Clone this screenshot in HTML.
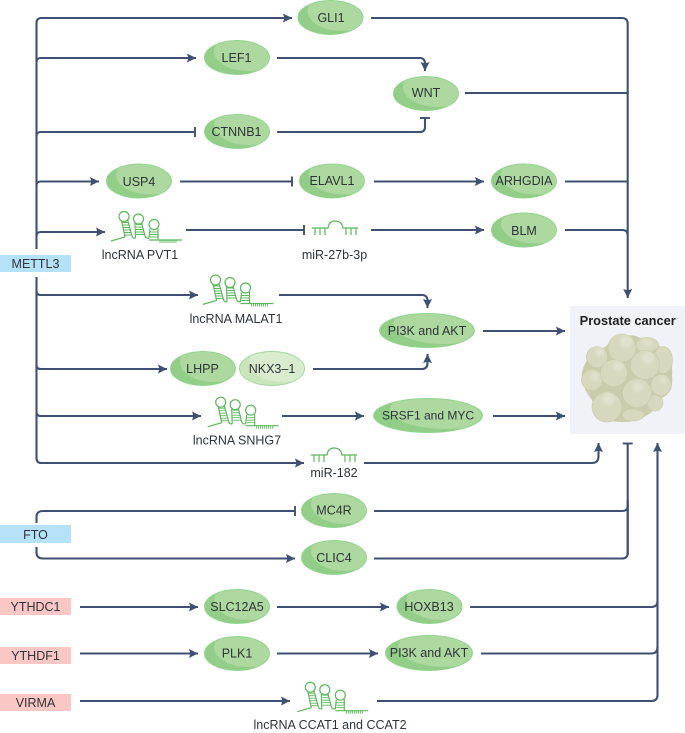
<!DOCTYPE html>
<html>
<head>
<meta charset="utf-8">
<style>
html,body{margin:0;padding:0;background:#fff;width:685px;height:733px;overflow:hidden}
svg{display:block}
text{font-family:"Liberation Sans",sans-serif;font-size:12.5px;fill:#2f3438;text-anchor:middle}
.l{fill:none;stroke:#3f5072;stroke-width:2.1}
.a{marker-end:url(#arr)}
.b{marker-end:url(#bar)}
.r{fill:none;stroke:#5cb85c;stroke-width:1.2}
.c{fill:none;stroke:#5cb85c;stroke-width:.9}
</style>
</head>
<body>
<svg width="685" height="733" viewBox="0 0 685 733" xmlns="http://www.w3.org/2000/svg">
<defs>
<marker id="arr" markerUnits="userSpaceOnUse" markerWidth="11" markerHeight="10" refX="9" refY="4.500" orient="auto"><path d="M0 0L9 4.500L0 9L1.400 4.500Z" fill="#3f5072"/></marker>
<marker id="bar" markerUnits="userSpaceOnUse" markerWidth="4" markerHeight="12" refX="1" refY="6" orient="auto"><path d="M1 1V11" stroke="#3f5072" stroke-width="1.9" fill="none"/></marker>
<clipPath id="ec"><ellipse cx="33" cy="17.5" rx="32.5" ry="17"/></clipPath>
<symbol id="n" viewBox="0 0 66 35" preserveAspectRatio="none">
<ellipse cx="33" cy="17.5" rx="32.5" ry="17" fill="#92ce88"/>
<ellipse cx="44" cy="11" rx="34" ry="20" fill="#add89f" clip-path="url(#ec)"/>
<ellipse cx="33" cy="17.5" rx="32.5" ry="17" fill="none" stroke="#8fd58c" stroke-width=".9"/>
</symbol>
<symbol id="p" viewBox="0 0 66 35" preserveAspectRatio="none">
<ellipse cx="33" cy="17.5" rx="32.5" ry="17" fill="#c9e5bc"/>
<ellipse cx="44" cy="11" rx="34" ry="20" fill="#d9ecce" clip-path="url(#ec)"/>
<ellipse cx="33" cy="17.5" rx="32.5" ry="17" fill="none" stroke="#9ad896" stroke-width=".9"/>
</symbol>
<g id="rna">
<path class="r" d="M0 0L14 -4L10.500 -20.500M16.500 -21.500L21 -5Q22 -2 24.500 -3L24 -18M30.500 -18.500L34 -5Q35 -2 38 -3L39 -12M47 -12.500V-1H71M38 -1H47"/>
<circle class="r" cx="13" cy="-24.500" r="5"/><circle class="r" cx="27.500" cy="-22" r="5"/><circle class="r" cx="43" cy="-16.500" r="5"/>
<path class="c" d="M11 -18.500h6M11.500 -16h6M12 -13.500h6.500M12.500 -11h6.500M13 -8.500h6.500M13.500 -6h7M25 -16.500h6M25 -14h6.500M25 -11.500h7M25 -9h7.500M25 -6.500h8.500M39 -9h8M39 -6.500h8M39 -4h8M49 -1v3M51 -1v3M53 -1v3M55 -1v3M57 -1v3M59 -1v3M61 -1v3M63 -1v3M65 -1v3"/>
</g>
<g id="mir">
<path class="r" d="M0 0H16Q17 -7 23 -7Q30 -7 31 0H46M3 0V7M8 0V7M13 0V7M34 0V7M39 0V7M44 0V7"/>
</g>
<filter id="soft" x="-20%" y="-20%" width="140%" height="140%"><feGaussianBlur stdDeviation="1.500"/></filter>
</defs>

<rect x="570" y="306" width="115" height="128" fill="#f0f2f7"/>

<!-- METTL3 trunk -->
<path class="l a" d="M36.500 249V23Q36.500 18 41.500 18H292"/>
<path class="l" d="M36.500 277V458Q36.500 463 41.500 463H100"/>
<path class="l a" d="M36.500 62Q36.500 58 41 58H196"/>
<path class="l b" d="M36.500 136Q36.500 132 41 132H195"/>
<path class="l a" d="M36.500 185Q36.500 181.500 41 181.500H99"/>
<path class="l a" d="M36.500 236Q36.500 232 41 232H105"/>
<path class="l a" d="M36.500 291Q36.500 295 41 295H198"/>
<path class="l a" d="M36.500 365Q36.500 369 41 369H167"/>
<path class="l a" d="M36.500 412Q36.500 416 41 416H201"/>
<path class="l a" d="M100 463H304"/>

<!-- Upper pathway -->
<path class="l a" d="M277 58H420Q425 58 425 64V71"/>
<path class="l b" d="M277 132H420Q425 132 425 127V118"/>
<path class="l b" d="M180 181.500H292"/>
<path class="l a" d="M374 181.500H484"/>
<path class="l b" d="M186 230H304"/>
<path class="l a" d="M371 230H484"/>

<!-- Right trunk -->
<path class="l a" d="M371 18H622Q627.700 18 627.700 24V298"/>
<path class="l" d="M465 93H627.700"/>
<path class="l" d="M565 181.500H627.700"/>
<path class="l" d="M565 230H622Q627.700 230 627.700 235"/>

<!-- Middle -->
<path class="l a" d="M279 295H422Q427.500 295 427.500 301V308"/>
<path class="l a" d="M313 369H422Q427.500 369 427.500 363V354"/>
<path class="l a" d="M483 331H565"/>
<path class="l a" d="M282 416H364"/>
<path class="l a" d="M493 416H565"/>
<path class="l a" d="M364 463H592Q598.500 463 598.500 456V443"/>

<!-- Lower -->
<path class="l b" d="M627.700 555V443.500"/>
<path class="l" d="M374 511H622Q627.700 511 627.700 506"/>
<path class="l" d="M374 558.500H622Q627.700 558.500 627.700 553V500"/>
<path class="l a" d="M657.500 695V443"/>
<path class="l" d="M470 607H651Q657.500 607 657.500 601"/>
<path class="l" d="M481 653.500H651Q657.500 653.500 657.500 647"/>
<path class="l" d="M377 701H651Q657.500 701 657.500 695"/>

<!-- FTO -->
<path class="l b" d="M36.500 523V517Q36.500 511 43 511H295"/>
<path class="l a" d="M36.500 547V552Q36.500 558.500 43 558.500H295"/>

<path class="l a" d="M80 607H198"/>
<path class="l a" d="M80 653.500H198"/>
<path class="l a" d="M80 701H290"/>
<path class="l a" d="M277 607H389"/>
<path class="l a" d="M277 653.500H378"/>

<!-- Left labels -->
<rect x="0" y="255" width="71" height="17" fill="#b5e2f8"/>
<rect x="0" y="525" width="71" height="18" fill="#b5e2f8"/>
<rect x="0" y="598" width="71" height="17" fill="#fbc7c4"/>
<rect x="0" y="647" width="71" height="17" fill="#fbc7c4"/>
<rect x="0" y="694" width="71" height="17" fill="#fbc7c4"/>
<text x="35.500" y="268">METTL3</text>
<text x="35.500" y="539">FTO</text>
<text x="35.500" y="611">YTHDC1</text>
<text x="35.500" y="660">YTHDF1</text>
<text x="35.500" y="707">VIRMA</text>

<!-- Nodes -->
<use href="#n" x="297.500" y="0" width="66" height="35"/>
<use href="#n" x="204" y="40" width="66" height="35"/>
<use href="#n" x="204" y="114" width="66" height="35"/>
<use href="#n" x="106" y="163.500" width="66" height="35"/>
<use href="#n" x="299" y="163.500" width="66" height="35"/>
<use href="#n" x="393" y="76" width="66" height="35"/>
<use href="#n" x="491" y="163.500" width="66" height="35"/>
<use href="#n" x="491" y="212.500" width="66" height="35"/>
<use href="#n" x="379" y="313" width="96" height="35"/>
<use href="#n" x="170" y="351" width="66" height="35"/>
<use href="#p" x="239" y="351" width="66" height="35"/>
<use href="#n" x="373" y="398" width="110" height="35"/>
<use href="#n" x="301" y="493" width="66" height="35"/>
<use href="#n" x="301" y="540" width="66" height="35"/>
<use href="#n" x="204" y="589" width="66" height="35"/>
<use href="#n" x="396.500" y="589" width="66" height="35"/>
<use href="#n" x="204" y="636" width="66" height="35"/>
<use href="#n" x="385" y="635" width="88" height="36"/>

<text x="331" y="22">GLI1</text>
<text x="236.500" y="62">LEF1</text>
<text x="236.500" y="136">CTNNB1</text>
<text x="139" y="186">USP4</text>
<text x="332" y="185">ELAVL1</text>
<text x="426" y="97">WNT</text>
<text x="524" y="185">ARHGDIA</text>
<text x="524" y="235">BLM</text>
<text x="427" y="335">PI3K and AKT</text>
<text x="202.500" y="373">LHPP</text>
<text x="272" y="373">NKX3–1</text>
<text x="428" y="419.500" style="font-size:12px">SRSF1 and MYC</text>
<text x="334" y="514.500">MC4R</text>
<text x="334" y="562">CLIC4</text>
<text x="237" y="611">SLC12A5</text>
<text x="429" y="611">HOXB13</text>
<text x="237" y="657.500">PLK1</text>
<text x="429" y="657">PI3K and AKT</text>

<!-- RNA -->
<use href="#rna" x="111" y="241"/>
<use href="#rna" x="202.500" y="304.500"/>
<use href="#rna" x="207.700" y="426.700"/>
<use href="#rna" x="297.300" y="711.700"/>
<use href="#mir" x="312" y="228"/>
<use href="#mir" x="311" y="455"/>
<text x="140" y="259">lncRNA PVT1</text>
<text x="334.500" y="259">miR-27b-3p</text>
<text x="236" y="323">lncRNA MALAT1</text>
<text x="237" y="444.500">lncRNA SNHG7</text>
<text x="334" y="477">miR-182</text>
<text x="330" y="729">lncRNA CCAT1 and CCAT2</text>

<!-- Tumour -->
<text x="627.700" y="325" style="font-weight:bold;font-size:12.800px;fill:#222">Prostate cancer</text>
<path d="M605 347Q620 332 636 336L660 346Q674 360 672 375Q674 392 662 398Q656 412 640 419Q625 424 612 421Q596 420 592 400Q580 385 582 372Q586 355 605 347Z" fill="#cbccae"/>
<g stroke="#c8c9aa" stroke-width=".6" fill="#d7d8bd">
<ellipse cx="647" cy="345" rx="11.500" ry="7.500"/>
<ellipse cx="663" cy="360" rx="9.500" ry="13.500"/>
<circle cx="622" cy="348" r="14"/>
<circle cx="597" cy="357" r="10.500"/>
<circle cx="592" cy="380" r="10.500"/>
<circle cx="661" cy="385" r="10.500"/>
<circle cx="614" cy="373" r="13.500"/>
<circle cx="645" cy="365" r="14.500"/>
<circle cx="655" cy="403" r="8"/>
<circle cx="637" cy="393" r="14.500"/>
<circle cx="607" cy="407" r="15"/>
<ellipse cx="633" cy="415" rx="11" ry="6"/>
</g>
<g fill="#e6e7d6" opacity=".7" filter="url(#soft)">
<circle cx="626" cy="342" r="6"/><circle cx="648" cy="358" r="6"/><circle cx="618" cy="366" r="5"/><circle cx="609" cy="399" r="6"/><circle cx="638" cy="387" r="5"/><circle cx="595" cy="377" r="4"/><circle cx="600" cy="352" r="4"/><circle cx="663" cy="380" r="3.500"/><ellipse cx="648" cy="343" rx="5" ry="3"/>
</g>
</svg>
</body>
</html>
